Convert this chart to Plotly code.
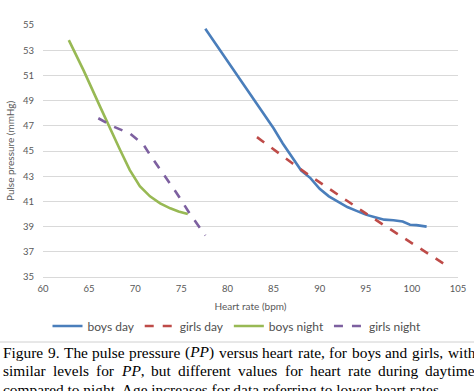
import plotly.graph_objects as go

# ---- data ----
boys_day_x = [77.6, 79, 80, 81, 82, 83, 84, 85, 86, 87, 88, 89, 90, 91, 92, 93, 94, 95, 96, 97, 98, 99, 99.8, 100.5, 101.6]
boys_day_y = [54.7, 53.2, 52.1, 51.1, 50.0, 48.9, 47.8, 46.8, 45.6, 44.5, 43.45, 42.85, 42.0, 41.4, 41.0, 40.55, 40.25, 39.95, 39.75, 39.55, 39.5, 39.4, 39.15, 39.12, 39.0]

girls_day_x = [83.2, 85, 87, 88.8, 91, 93, 95, 97, 99, 101, 103, 104]
girls_day_y = [46.1, 45.1, 44.05, 43.1, 42.0, 41.0, 40.05, 39.1, 38.15, 37.2, 36.25, 35.8]

boys_night_x = [62.8, 64.4, 66.2, 67.1, 68.35, 69.4, 70.5, 71.6, 72.7, 73.8, 74.7, 75.7]
boys_night_y = [53.8, 51.4, 48.5, 47.05, 45.1, 43.5, 42.2, 41.4, 40.85, 40.45, 40.2, 40.0]

girls_night_x = [66.0, 67.6, 69.4, 70.9, 71.6, 73.05, 74.5, 75.9, 77.6]
girls_night_y = [47.6, 46.95, 46.4, 45.5, 44.7, 43.2, 41.65, 40.05, 38.3]

x_ticks = [60, 65, 70, 75, 80, 85, 90, 95, 100, 105]
y_ticks = [35, 37, 39, 41, 43, 45, 47, 49, 51, 53, 55]

caption_line1 = ["Figure", "9.", "The", "pulse", "pressure", "(<i>PP</i>)", "versus", "heart", "rate,",
                 "for", "boys", "and", "girls,", "with"]
caption_line2 = ["similar", "levels", "for", "<i>PP</i>,", "but", "different", "values", "for", "heart",
                 "rate", "during", "daytime"]
caption_line3 = "compared to night. Age increases for data referring to lower heart rates."

# ---- layout helpers ----
W, H = 474, 391
L, R, T, B = 43, 16, 25, 114
plot_w = W - L - R
plot_h = H - T - B
CAP_SIZE = 15.4
SERIF = "Liberation Serif, Times New Roman, serif"

def px(pixel_x):
    return (pixel_x - L) / plot_w

def py(pixel_y):
    return (H - B - pixel_y) / plot_h

# approximate Times glyph advance widths (per 1000 em) for justification
TIMES = {"a": 444, "b": 500, "c": 444, "d": 500, "e": 444, "f": 333, "g": 500, "h": 500, "i": 278,
         "l": 278, "m": 778, "n": 500, "o": 500, "p": 500, "r": 333, "s": 389, "t": 278, "u": 500,
         "v": 500, "w": 722, "y": 500, "F": 556, "T": 611, "P": 611, "9": 500, ".": 250, ",": 250,
         "(": 333, ")": 333}

def word_width(word):
    plain = word.replace("<i>", "").replace("</i>", "")
    return sum(TIMES.get(c, 500) for c in plain) * CAP_SIZE / 1000.0

def justified(words, pixel_y, x0=1, x1=473):
    total = sum(word_width(w) for w in words)
    gap = (x1 - x0 - total) / (len(words) - 1)
    out = []
    x = x0
    for w in words:
        out.append(dict(text=w, xref="paper", yref="paper", x=px(x), y=py(pixel_y),
                        xanchor="left", yanchor="middle", showarrow=False,
                        font=dict(family=SERIF, size=CAP_SIZE, color="#000000")))
        x += word_width(w) + gap
    return out

fig = go.Figure()
fig.add_trace(go.Scatter(x=boys_day_x, y=boys_day_y, mode="lines", name="boys day",
                         line=dict(color="#4a7ebb", width=2.6)))
fig.add_trace(go.Scatter(x=girls_day_x, y=girls_day_y, mode="lines", name="girls day",
                         line=dict(color="#be4b48", width=2.6, dash="dash")))
fig.add_trace(go.Scatter(x=boys_night_x, y=boys_night_y, mode="lines", name="boys night",
                         line=dict(color="#98b954", width=2.6)))
fig.add_trace(go.Scatter(x=girls_night_x, y=girls_night_y, mode="lines", name="girls night",
                         line=dict(color="#7d60a0", width=2.6, dash="dash")))

SANS = "Lato, Open Sans, sans-serif"
tick_font = dict(family=SANS, size=9.5, color="#595959")
title_font = dict(family=SANS, size=10, color="#595959")

fig.update_xaxes(range=[60, 105], tickvals=x_ticks, showgrid=False, zeroline=False,
                 showline=True, linecolor="#d9d9d9", linewidth=1,
                 ticks="outside", ticklen=3, tickcolor="rgba(0,0,0,0)",
                 tickfont=tick_font, automargin=False,
                 title=dict(text="Heart rate (bpm)", font=title_font, standoff=9))
fig.update_yaxes(range=[35, 55], tickvals=y_ticks, showgrid=True, gridcolor="#d9d9d9", gridwidth=1,
                 zeroline=False, showline=False,
                 ticks="outside", ticklen=6, tickcolor="rgba(0,0,0,0)",
                 tickfont=tick_font, automargin=False,
                 title=dict(text="Pulse pressure (mmHg)", font=title_font, standoff=6))

annotations = []
annotations += justified(caption_line1, 352)
annotations += justified(caption_line2, 370.5)
annotations.append(dict(text=caption_line3, xref="paper", yref="paper", x=px(1), y=py(389),
                        xanchor="left", yanchor="middle", showarrow=False,
                        font=dict(family=SERIF, size=CAP_SIZE, color="#000000")))

fig.update_layout(
    template="none",
    width=W, height=H,
    margin=dict(l=L, r=R, t=T, b=B, autoexpand=False),
    paper_bgcolor="white", plot_bgcolor="white",
    showlegend=True,
    legend=dict(orientation="h", x=px(237), y=py(326), xanchor="center", yanchor="middle",
                font=dict(family=SANS, size=12, color="#505050"),
                itemwidth=30, tracegroupgap=0, bgcolor="rgba(0,0,0,0)"),
    annotations=annotations,
    shapes=[dict(type="line", xref="paper", yref="paper", x0=px(0), x1=px(W),
                 y0=py(342), y1=py(342), line=dict(color="#d0d0d0", width=1))],
)

fig.write_html("out.html", config={"displayModeBar": False},
               post_script="document.body.style.margin='0';")
